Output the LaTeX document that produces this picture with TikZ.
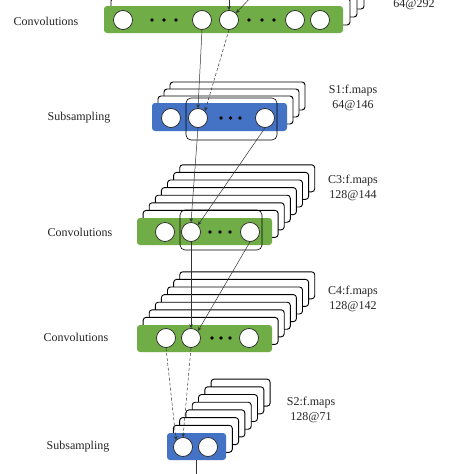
\documentclass[tikz,border=0pt]{standalone}
\usepackage{fontspec}
\setmainfont{Liberation Serif}
\usetikzlibrary{arrows.meta}
\definecolor{convGreen}{HTML}{70AD47}
\definecolor{poolBlue}{HTML}{4472C4}
\definecolor{lineGrey}{HTML}{333333}

\begin{document}
\begin{tikzpicture}[x=1pt, y=-1pt, font=\fontsize{12}{15}\selectfont,
  fmap/.style={draw=black, fill=white, line width=0.9pt, rounded corners=3pt},
  convbar/.style={fill=convGreen, rounded corners=3pt, inner sep=0pt, minimum height=27pt},
  poolbar/.style={fill=poolBlue, rounded corners=3pt, inner sep=0pt, minimum height=27pt},
  unit/.style={circle, draw=black!85, fill=white, line width=0.7pt, minimum size=19pt, inner sep=0pt},
  field/.style={draw=black, line width=0.6pt, rounded corners=5pt},
  link/.style={-{Stealth[length=4pt, width=3.5pt]}, draw=lineGrey, line width=0.5pt},
  dashlink/.style={link, dash pattern=on 3pt off 2pt},
  lab/.style={align=center, text=black!85}]
  \useasboundingbox[fill=white] (0,0) rectangle (474,474);

  % first convolution layer
  \foreach \k in {3,2,1} \draw[fmap] (104+7*\k, 6-8*\k) rectangle ++(239,27);
  \node[convbar, minimum width=239pt] (conv1) at (223.5,19.5) {};
  \node[unit] (c1a) at (123,20) {};
  \node[unit] (c1b) at (202,20) {};
  \node[unit] (c1c) at (229,20) {};
  \node[unit] (c1d) at (295,20) {};
  \node[unit] (c1e) at (320,20) {};
  \foreach \x in {152,164,176,249,262,274} \fill (\x,20) circle (1.9pt);
  \node[lab] (conv1lab) at (46,21) {Convolutions};
  \node[lab, anchor=base] (map1lab) at (414,7) {64@292};

  % S1
  \foreach \k in {3,2,1} \draw[fmap] (152+6*\k, 103-7*\k) rectangle ++(135,28);
  \node[poolbar, minimum width=135pt, minimum height=28pt] (pool1) at (219.5,117) {};
  \node[unit] (s1a) at (171,118) {};
  \node[unit] (s1b) at (198,118) {};
  \node[unit] (s1c) at (265,118) {};
  \foreach \x in {221,230.5,240} \fill (\x,118) circle (1.9pt);
  \draw[field] (186,98) rectangle (277,140);
  \node[lab] (pool1lab) at (79,118) {Subsampling};
  \node[lab] (map2lab) at (353,97.5) {S1:f.maps\\64@146};

  % C3
  \foreach \k in {7,...,1} \draw[fmap] (137+6.1*\k, 218-7.6*\k) rectangle ++(135,27);
  \node[convbar, minimum width=135pt] (conv3) at (204.5,231.5) {};
  \node[unit] (c3a) at (165,232) {};
  \node[unit] (c3b) at (191,232) {};
  \node[unit] (c3c) at (250,232) {};
  \foreach \x in {210,220,230} \fill (\x,232) circle (1.9pt);
  \draw[field] (180,210) rectangle (262,250);
  \node[lab] (conv3lab) at (80,232) {Convolutions};
  \node[lab] (map3lab) at (353,188) {C3:f.maps\\128@144};

  % C4
  \foreach \k in {7,...,1} \draw[fmap] (137+6.1*\k, 325-7.6*\k) rectangle ++(135,27);
  \node[convbar, minimum width=135pt] (conv4) at (204.5,338.5) {};
  \node[unit] (c4a) at (166,338) {};
  \node[unit] (c4b) at (191,338) {};
  \node[unit] (c4c) at (249,338) {};
  \foreach \x in {212,221,230} \fill (\x,338) circle (1.9pt);
  \node[lab] (conv4lab) at (76,337) {Convolutions};
  \node[lab] (map4lab) at (353,299) {C4:f.maps\\128@142};

  % S2
  \foreach \k in {7,...,1} \draw[fmap] (167+6.3*\k, 433-7.7*\k) rectangle ++(59,27);
  \node[poolbar, minimum width=59pt] (pool2) at (196.5,446.5) {};
  \node[unit] (s2a) at (183,447) {};
  \node[unit] (s2b) at (208,447) {};
  \node[lab] (pool2lab) at (78,447) {Subsampling};
  \node[lab] (map5lab) at (311,410) {S2:f.maps\\128@71};

  % connections
  \coordinate (topa) at (229,-5);
  \coordinate (topb) at (253,-5);
  \coordinate (s2out) at (196.5,480);
  \draw[link] (topa) -- (c1c.north);
  \draw[link] (topb) -- (c1c.north east);
  \draw[link] (c1b.south) -- (s1b.north);
  \draw[dashlink] (c1c.south) -- (s1b.north east);
  \draw[link] (s1b.south) -- (c3b.north);
  \draw[link] (s1c.south) -- (c3b.north east);
  \draw[link] (c3b.south) -- (c4b.north);
  \draw[link] (c3c.south) -- (c4b.north east);
  \draw[dashlink] (c4a.south) -- (s2a.north west);
  \draw[dashlink] (c4b.south) -- (s2a.north);
  \draw[draw=lineGrey, line width=0.5pt] (pool2.south) -- (s2out);
\end{tikzpicture}
\end{document}
